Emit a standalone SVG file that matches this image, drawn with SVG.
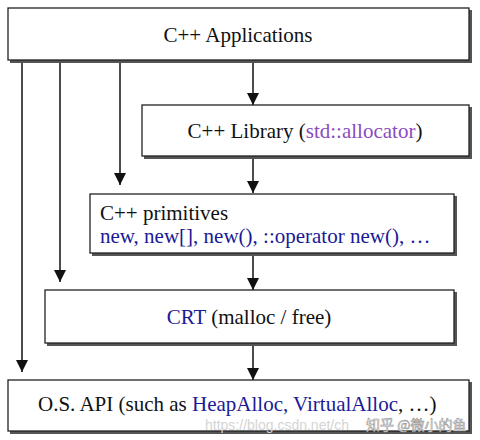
<svg xmlns="http://www.w3.org/2000/svg" width="480" height="440" viewBox="0 0 480 440">
<style>
.box{fill:#fff;stroke:#222;stroke-width:1.3}
.shd{fill:#555}
.t{font-family:"Liberation Serif","Times New Roman",serif;font-size:21px;fill:#111}
.b{fill:#1a1a96}
.p{fill:#8a4cc0}
.ln{stroke:#111;stroke-width:1.5;fill:none}
.wm{font-family:"Liberation Sans",Arial,sans-serif;font-size:14px;fill:#d4d4d4}
.wz{font-family:"Noto Sans CJK SC",sans-serif;font-size:14px;fill:#fff;stroke:#999;stroke-width:0.6}
</style>
<defs>
<marker id="ah" markerWidth="12" markerHeight="12" refX="12" refY="6" orient="auto" markerUnits="userSpaceOnUse">
<path d="M0,0 L12,6 L0,12 z" fill="#111"/>
</marker>
</defs>
<rect width="480" height="440" fill="#fff"/>
<g id="connectors">
<line class="ln" x1="253" y1="61" x2="253" y2="105" marker-end="url(#ah)"/>
<line class="ln" x1="120" y1="61" x2="120" y2="185" marker-end="url(#ah)"/>
<line class="ln" x1="60" y1="61" x2="60" y2="282" marker-end="url(#ah)"/>
<line class="ln" x1="22" y1="61" x2="22" y2="372" marker-end="url(#ah)"/>
<line class="ln" x1="253" y1="157" x2="253" y2="193" marker-end="url(#ah)"/>
<line class="ln" x1="253" y1="254" x2="253" y2="290" marker-end="url(#ah)"/>
<line class="ln" x1="253" y1="344" x2="253" y2="380" marker-end="url(#ah)"/>
</g>
<g id="apps">
<rect class="shd" x="10" y="10" width="462" height="53"/>
<rect class="box" x="8" y="8" width="461" height="52"/>
<text class="t" x="238" y="42" text-anchor="middle">C++ Applications</text>
</g>
<g id="library">
<rect class="shd" x="144" y="107" width="328" height="52"/>
<rect class="box" x="142" y="105" width="327" height="51"/>
<text class="t" x="305" y="138" text-anchor="middle">C++ Library (<tspan class="p">std::allocator</tspan>)</text>
</g>
<g id="primitives">
<rect class="shd" x="92" y="196" width="365" height="60"/>
<rect class="box" x="90" y="194" width="364" height="59"/>
<text class="t" x="100" y="220">C++ primitives</text>
<text class="t b" x="100" y="243">new, new[], new(), ::operator new(), …</text>
</g>
<g id="crt">
<rect class="shd" x="47" y="292" width="410" height="54"/>
<rect class="box" x="45" y="290" width="409" height="53"/>
<text class="t" x="249" y="324" text-anchor="middle"><tspan class="b">CRT</tspan> (malloc / free)</text>
</g>
<g id="osapi">
<rect class="shd" x="10" y="382" width="462" height="52"/>
<rect class="box" x="8" y="380" width="461" height="51"/>
<text class="t" x="38" y="411">O.S. API (such as <tspan class="b">HeapAlloc, VirtualAlloc</tspan>, …)</text>
</g>
<g id="watermark">
<text class="wm" x="205" y="430">https://blog.csdn.net/ch</text>
<text class="wz" x="366" y="430">知乎 @微小的鱼</text>
</g>
</svg>
